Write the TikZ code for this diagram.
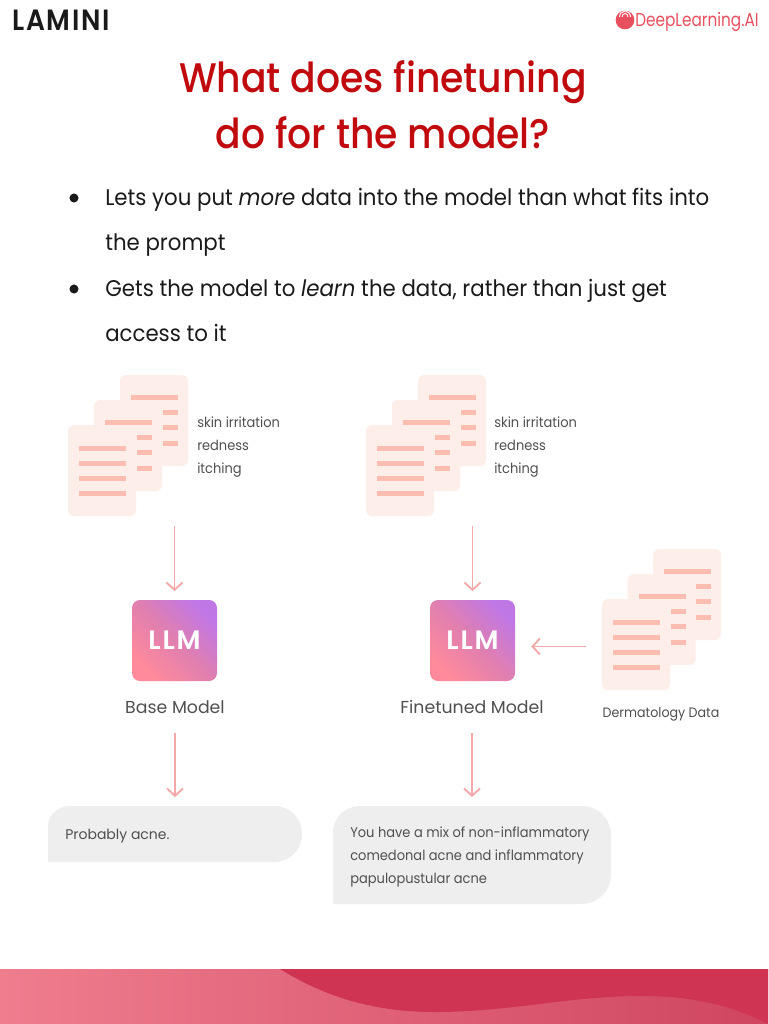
\documentclass[tikz,border=0pt]{standalone}
\usepackage{fontspec}
\setmainfont{Poppins}
\newfontfamily\bodyfont[FakeStretch=0.94]{Poppins}
\newfontfamily\smallfont[FakeStretch=0.93]{Poppins}
\newfontfamily\dlaifont[FakeStretch=0.82]{Poppins}
\newfontfamily\titlefont[FakeStretch=0.913]{Poppins Medium}
\newfontfamily\llmfont[LetterSpace=7]{Poppins SemiBold}
\newfontfamily\logofont[LetterSpace=6,FakeStretch=0.9]{Poppins SemiBold}
\usetikzlibrary{arrows.meta,fit,calc}
\definecolor{pagefill}{HTML}{FDEEEA}
\definecolor{pageline}{HTML}{FDBDB0}
\definecolor{arrowc}{HTML}{F4A9A8}
\definecolor{titlec}{HTML}{C00A0E}
\definecolor{bodyc}{HTML}{1A1A1A}
\definecolor{labelc}{HTML}{505050}
\definecolor{bubblec}{HTML}{EEEEEE}
\definecolor{dlaic}{HTML}{E9505E}
\definecolor{bandL}{HTML}{EF7D8E}
\definecolor{bandR}{HTML}{CF4560}
\definecolor{bandD}{HTML}{CF3552}
\definecolor{BL}{HTML}{FF8A9B}
\definecolor{MD}{HTML}{E07FB0}
\definecolor{TR}{HTML}{C077E6}
\tikzset{
  x=0.75pt,y=-0.75pt,
  pagebox/.style={fill=pagefill,rounded corners=4.5pt},
  pagebar/.style={fill=pageline},
  conn/.style={draw=arrowc,line width=1.4pt,-{Straight Barb[length=5.5pt,width=12pt,line width=1.4pt]}},
  llmbox/.style={rounded corners=6pt,minimum width=63.75pt,minimum height=60.75pt,inner sep=0pt,
    shading=axis,bottom color=BL,top color=TR,middle color=MD,shading angle=-45,
    text=white,font=\llmfont\fontsize{20}{20}\selectfont},
  lbl/.style={text=labelc,inner sep=0pt,anchor=base west,font=\smallfont\fontsize{10.5}{10.5}\selectfont},
  mdl/.style={text=labelc,inner sep=0pt,anchor=base,font=\fontsize{13}{13}\selectfont},
  ans/.style={text=labelc,inner sep=0pt,anchor=base west,font=\smallfont\fontsize{10.5}{10.5}\selectfont},
  body/.style={text=bodyc,inner sep=0pt,anchor=base west,font=\bodyfont\fontsize{17}{17}\selectfont},
  ttl/.style={text=titlec,inner sep=0pt,anchor=base,font=\titlefont\fontsize{31}{31}\selectfont},
}
% #1 name, #2 x offset, #3 y offset, #4 spread between pages
\newcommand{\docstack}[4]{%
  \begin{scope}[shift={(#2,#3)}]
    \foreach \px/\py/\nb in {2*#4/-50/3,#4/-25/3,0/0/4}{%
      \fill[pagebox] (\px,\py) rectangle ++(68,91);
      \ifnum\nb=3
        \fill[pagebar] (\px+11,\py+20) rectangle ++(47,5);
        \foreach \k in {0,1,2}{\fill[pagebar] (\px+43,\py+35+15.3*\k) rectangle ++(15,5);}
      \else
        \foreach \k in {0,1,2,3}{\fill[pagebar] (\px+11,\py+20.5+15.3*\k) rectangle ++(47,5);}
      \fi
    }
    \coordinate (#1a) at (0,-50);
    \coordinate (#1b) at (2*#4+68,91);
  \end{scope}
  \node[fit=(#1a)(#1b),inner sep=0pt] (#1) {};
}
\begin{document}
\begin{tikzpicture}
\fill[white] (0,0) rectangle (768,1024);
\begin{scope}
\clip (0,0) rectangle (768,1024);
% band
\shade[left color=bandL,right color=bandR] (0,969) rectangle (772,1026);
\fill[bandD] (280,969) .. controls (330,1000) and (380,1012) .. (435,1012)
  .. controls (510,1012) and (570,996) .. (640,996)
  .. controls (690,996) and (730,1004) .. (772,1026) -- (772,969) -- cycle;
\end{scope}
% logos
\node[anchor=base west,inner sep=0pt,text=bodyc,font=\logofont\fontsize{22}{22}\selectfont] (lamini) at (12,31) {LAMINI};
\fill[dlaic] (625,20) circle (7pt);
\draw[white,line width=.7pt] (619.5,17) arc (180:360:5.5 and 6);
\draw[white,line width=.7pt] (622,17) arc (180:360:3 and 3.5);
\node[anchor=base west,inner sep=0pt,text=dlaic,font=\dlaifont\fontsize{14}{14}\selectfont] (dlai) at (635,27) {DeepLearning.AI};
% title
\node[ttl] (t1) at (383,93) {What does finetuning};
\node[ttl] (t2) at (383,148) {do for the model?};
% bullets
\fill[bodyc] (74,198) circle (3.4pt);
\fill[bodyc] (74,289) circle (3.4pt);
\node[body] (b1) at (105,205) {Lets you put \textit{more} data into the model than what fits into};
\node[body] (b2) at (105,250) {the prompt};
\node[body] (b3) at (105,296) {Gets the model to \textit{learn} the data, rather than just get};
\node[body] (b4) at (105,341) {access to it};
% stacks
\docstack{stackA}{68}{425}{26}
\docstack{stackB}{366}{425}{26}
\docstack{stackC}{602}{599}{25.5}
\foreach \xx/\nn in {197/A,494/B}{
  \node[lbl] (sk\nn) at (\xx,427) {skin irritation};
  \node[lbl] (re\nn) at (\xx,450) {redness};
  \node[lbl] (it\nn) at (\xx,473) {itching};
}
\node[anchor=base,inner sep=0pt,text=labelc,font=\smallfont\fontsize{10.2}{10.2}\selectfont] (derm) at (661,717) {Dermatology Data};
% LLM
\node[llmbox] (llmA) at (174.5,640.5) {LLM};
\node[llmbox] (llmB) at (472.5,640.5) {LLM};
\node[mdl] (baseM) at (175,713) {Base Model};
\node[mdl] (fineM) at (472,713) {Finetuned Model};
% bubbles
\fill[bubblec] (48,862) -- (48,826) .. controls (48,815) and (58,806) .. (70,806) -- (274,806)
  .. controls (290,806) and (302,818) .. (302,834) .. controls (302,850) and (290,862) .. (274,862) -- cycle;
\fill[bubblec] (333,904) -- (333,832) .. controls (333,818) and (345,806) .. (360,806) -- (581,806)
  .. controls (598,806) and (611,818) .. (611,836) -- (611,874) .. controls (611,891) and (598,904) .. (581,904) -- cycle;
\node[inner sep=0pt,minimum width=190.5pt,minimum height=42pt] (bubA) at (175,834) {};
\node[inner sep=0pt,minimum width=208.5pt,minimum height=73.5pt] (bubB) at (472,855) {};
\node[text=labelc,inner sep=0pt,anchor=base west,font=\fontsize{10.5}{10.5}\selectfont] (a1) at (65,839) {Probably acne.};
\node[ans] (a2) at (350,837) {You have a mix of non-inflammatory};
\node[ans] (a3) at (350,860) {comedonal acne and inflammatory};
\node[ans] (a4) at (350,883) {papulopustular acne};
% connectors
\draw[conn,shorten <=7.5pt,shorten >=6.5pt] (stackA.south -| llmA.north) -- (llmA.north);
\draw[conn,shorten <=7.5pt,shorten >=6.5pt] (stackB.south -| llmB.north) -- (llmB.north);
\draw[conn,shorten <=15pt,shorten >=6.5pt] (baseM.south) -- (bubA.north);
\draw[conn,shorten <=15pt,shorten >=6.5pt] (fineM.south) -- (bubB.north);
\draw[conn,shorten <=12pt,shorten >=12pt] (stackC.west |- llmB.east) ++(0,6) coordinate (cs) -- (llmB.east |- cs);
\useasboundingbox (0,0) rectangle (768,1024);
\end{tikzpicture}
\end{document}
